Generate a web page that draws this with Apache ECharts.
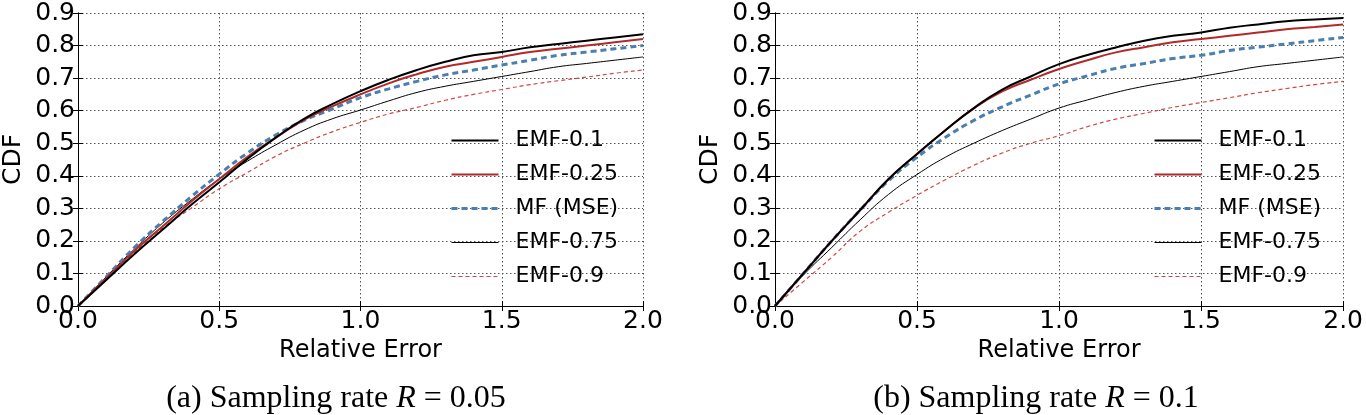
<!DOCTYPE html>
<html>
<head>
<meta charset="utf-8">
<script src="https://cdn.jsdelivr.net/npm/echarts@6/dist/echarts.min.js"></script>
<style>
html, body { margin: 0; padding: 0; background: #fff; }
#main { width: 1366px; height: 415px; }
</style>
</head>
<body>
<div id="main"></div>
<script>
// relative error sample points (x axis)
var errX = [0, 0.1, 0.2, 0.3, 0.4, 0.5, 0.6, 0.7, 0.8, 0.9, 1.0, 1.1, 1.2, 1.3, 1.4, 1.5, 1.6, 1.7, 1.8, 1.9, 2.0];
var names = ['EMF-0.1', 'EMF-0.25', 'MF (MSE)', 'EMF-0.75', 'EMF-0.9'];
var xTicks = ['0.0', '0.5', '1.0', '1.5', '2.0'];

// (a) R = 0.05
var a_emf01  = [0, 0.08, 0.16, 0.235, 0.31, 0.38, 0.452, 0.517, 0.575, 0.62, 0.66, 0.695, 0.725, 0.75, 0.77, 0.78, 0.795, 0.805, 0.815, 0.825, 0.835];
var a_emf025 = [0, 0.085, 0.17, 0.245, 0.32, 0.39, 0.458, 0.517, 0.572, 0.613, 0.65, 0.684, 0.712, 0.735, 0.75, 0.765, 0.78, 0.79, 0.80, 0.81, 0.82];
var a_mf     = [0, 0.09, 0.18, 0.26, 0.335, 0.405, 0.47, 0.525, 0.57, 0.605, 0.64, 0.667, 0.69, 0.71, 0.725, 0.74, 0.755, 0.77, 0.78, 0.79, 0.80];
var a_emf075 = [0, 0.09, 0.175, 0.255, 0.325, 0.39, 0.445, 0.495, 0.54, 0.575, 0.602, 0.63, 0.656, 0.675, 0.69, 0.705, 0.72, 0.735, 0.745, 0.755, 0.765];
var a_emf09  = [0, 0.085, 0.165, 0.24, 0.30, 0.36, 0.41, 0.46, 0.50, 0.535, 0.564, 0.59, 0.61, 0.632, 0.65, 0.665, 0.68, 0.692, 0.703, 0.715, 0.725];

// (b) R = 0.1
var b_emf01  = [0, 0.1, 0.2, 0.295, 0.39, 0.467, 0.54, 0.608, 0.665, 0.705, 0.743, 0.771, 0.794, 0.815, 0.83, 0.84, 0.855, 0.865, 0.875, 0.88, 0.885];
var b_emf025 = [0, 0.1, 0.2, 0.295, 0.39, 0.467, 0.54, 0.607, 0.659, 0.695, 0.728, 0.755, 0.779, 0.795, 0.81, 0.82, 0.83, 0.84, 0.85, 0.857, 0.865];
var b_mf     = [0, 0.1, 0.2, 0.295, 0.385, 0.457, 0.518, 0.57, 0.612, 0.648, 0.682, 0.707, 0.73, 0.745, 0.76, 0.77, 0.785, 0.795, 0.805, 0.815, 0.825];
var b_emf075 = [0, 0.095, 0.18, 0.265, 0.343, 0.404, 0.457, 0.50, 0.539, 0.574, 0.608, 0.633, 0.656, 0.675, 0.69, 0.705, 0.72, 0.735, 0.745, 0.755, 0.765];
var b_emf09  = [0, 0.075, 0.15, 0.23, 0.288, 0.34, 0.388, 0.432, 0.47, 0.5, 0.523, 0.551, 0.574, 0.592, 0.61, 0.625, 0.64, 0.655, 0.668, 0.68, 0.69];

var styles = [
    {color: '#000000', width: 2, type: 'solid'},
    {color: '#b22a2a', width: 2, type: 'solid'},
    {color: '#4a7fb0', width: 3, type: [6, 4]},
    {color: '#000000', width: 1, type: 'solid'},
    {color: '#d04848', width: 1.2, type: [4, 3]}
];

function pairs(ys) {
    return errX.map(function (x, i) { return [x, ys[i]]; });
}

var font = 'DejaVu Sans';
var tickFont = {fontFamily: font, fontSize: 25, color: '#000'};
var gridLine = {show: true, lineStyle: {color: '#555', type: [1.5, 2.5], width: 1}};

function xAxes(idx) {
    return [{
        type: 'value', gridIndex: idx, min: 0, max: 2, interval: 0.5,
        name: 'Relative Error', nameLocation: 'middle', nameGap: 32,
        nameTextStyle: {fontFamily: font, fontSize: 24, color: '#000'},
        axisLine: {lineStyle: {color: '#000', width: 1}},
        axisTick: {inside: true, length: 5, lineStyle: {color: '#000'}},
        axisLabel: Object.assign({margin: 3, formatter: function (v) { return xTicks[Math.round(v / 0.5)]; }}, tickFont),
        splitLine: gridLine
    }, {
        type: 'value', gridIndex: idx, position: 'top', min: 0, max: 2, interval: 0.5,
        axisLine: {lineStyle: {color: '#000'}},
        axisTick: {inside: true, length: 5, lineStyle: {color: '#000'}},
        axisLabel: {show: false}, splitLine: {show: false}
    }];
}

function yAxes(idx) {
    return [{
        type: 'value', gridIndex: idx, min: 0, max: 0.9, interval: 0.1,
        name: 'CDF', nameLocation: 'middle', nameGap: 52,
        nameTextStyle: {fontFamily: font, fontSize: 25, color: '#000'},
        axisLine: {show: true, lineStyle: {color: '#000', width: 1}},
        axisTick: {show: true, inside: true, length: 5, lineStyle: {color: '#000'}},
        axisLabel: Object.assign({margin: 3, formatter: function (v) { return v.toFixed(1); }}, tickFont),
        splitLine: gridLine
    }, {
        type: 'value', gridIndex: idx, position: 'right', min: 0, max: 0.9, interval: 0.1,
        axisLine: {show: true, lineStyle: {color: '#000'}},
        axisTick: {show: true, inside: true, length: 5, lineStyle: {color: '#000'}},
        axisLabel: {show: false}, splitLine: {show: false}
    }];
}

function makeSeries(idx, sets) {
    return sets.map(function (ys, i) {
        return {
            name: names[i], type: 'line', xAxisIndex: idx * 2, yAxisIndex: idx * 2,
            data: pairs(ys), symbol: 'none', smooth: true, z: 10 - i,
            lineStyle: styles[i], itemStyle: {color: styles[i].color}
        };
    });
}

function legendAt(left) {
    return {
        orient: 'vertical', left: left, top: 124,
        data: names.map(function (n, i) {
            return {name: n, lineStyle: {width: styles[i].width, type: styles[i].type, color: styles[i].color}};
        }),
        itemWidth: 47, itemHeight: 14, itemGap: 11,
        itemStyle: {color: 'rgba(0,0,0,0)', borderWidth: 0, opacity: 0},
        textStyle: {fontFamily: font, fontSize: 22, lineHeight: 23, color: '#000', padding: [0, 0, 0, 12]},
        selectedMode: false
    };
}

var captionRich = {
    t: {fontFamily: 'Liberation Serif', fontSize: 32, fontWeight: 'normal', color: '#000'},
    i: {fontFamily: 'Liberation Serif', fontSize: 32, fontWeight: 'normal', fontStyle: 'italic', color: '#000'}
};

var myChart = echarts.init(document.getElementById('main'));
var option = {
    backgroundColor: '#fff',
    animation: false,
    title: [{
        text: '{t|(a) Sampling rate }{i|R}{t| = 0.05}',
        left: 331, top: 378, textAlign: 'center',
        textStyle: {fontWeight: 'normal', rich: captionRich}
    }, {
        text: '{t|(b) Sampling rate }{i|R}{t| = 0.1}',
        left: 1031, top: 378, textAlign: 'center',
        textStyle: {fontWeight: 'normal', rich: captionRich}
    }],
    legend: [legendAt(445), legendAt(1148)],
    grid: [
        {left: 73, top: 13, width: 570, height: 293},
        {left: 775, top: 13, width: 569, height: 293}
    ],
    xAxis: xAxes(0).concat(xAxes(1)),
    yAxis: yAxes(0).concat(yAxes(1)),
    series: makeSeries(0, [a_emf01, a_emf025, a_mf, a_emf075, a_emf09])
        .concat(makeSeries(1, [b_emf01, b_emf025, b_mf, b_emf075, b_emf09]))
};
myChart.setOption(option);
</script>
</body>
</html>
